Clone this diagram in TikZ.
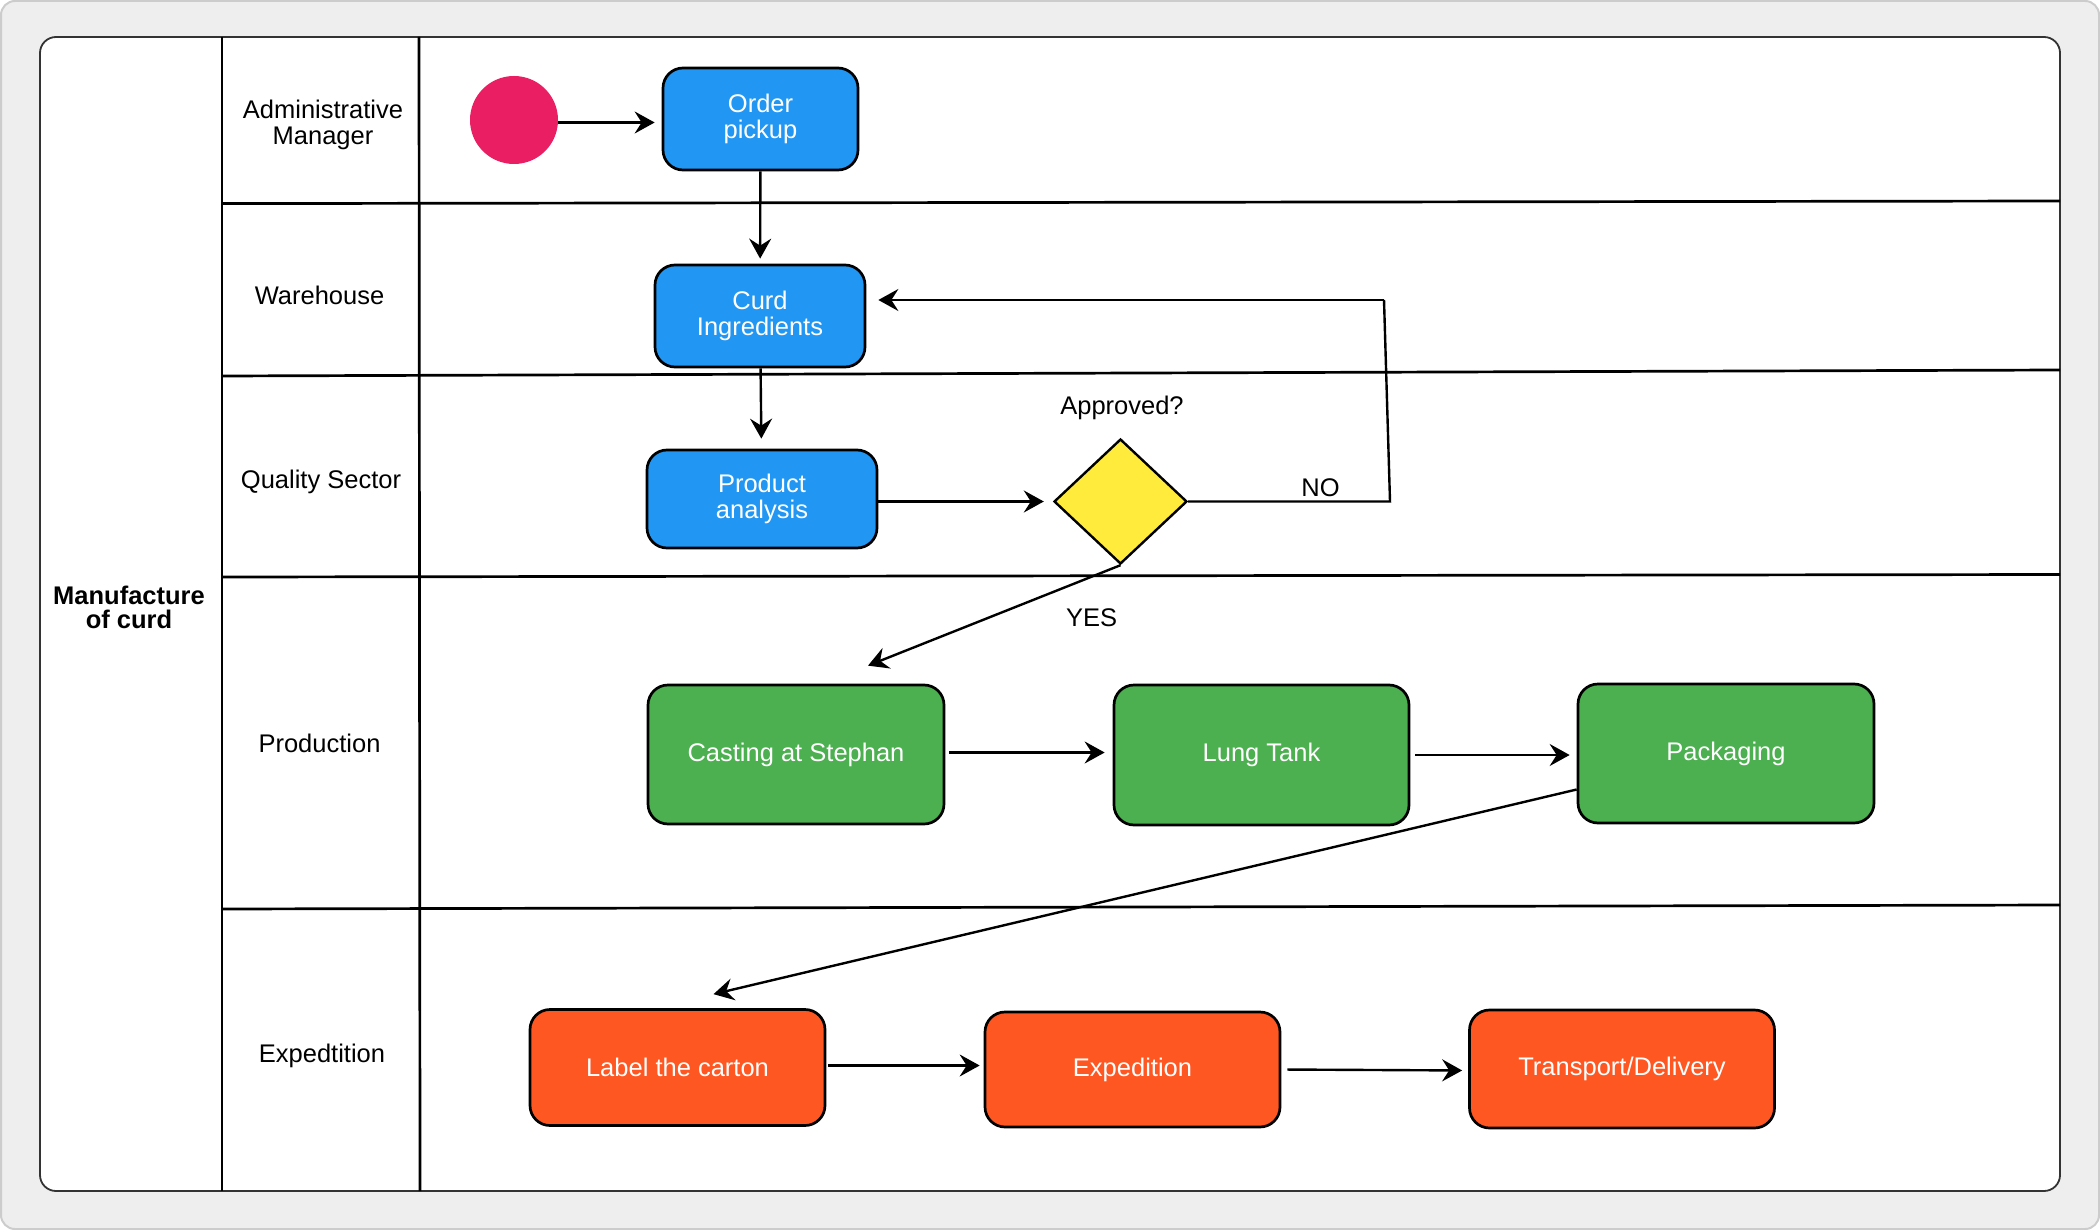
\documentclass[tikz,border=0pt]{standalone}
\usepackage{fontspec}
\setmainfont{Liberation Sans}
\usetikzlibrary{arrows.meta,shapes.geometric,calc}
\definecolor{bgc}{HTML}{EEEEEE}
\definecolor{bgline}{HTML}{CCCCCC}
\definecolor{panelline}{HTML}{333333}
\definecolor{cblue}{HTML}{2196F3}
\definecolor{cgreen}{HTML}{4CAF50}
\definecolor{corange}{HTML}{FF5722}
\definecolor{cyellow}{HTML}{FFEB3B}
\definecolor{cpink}{HTML}{E91E63}
\begin{document}
\begin{tikzpicture}[x=1pt,y=-1pt,
  txt/.style={font=\fontsize{25.5}{25.5}\selectfont, align=center, inner sep=0pt},
  lanelabel/.style={txt, text=black},
  box/.style={txt, draw=black, line width=2.7pt, rounded corners=20pt, text=white},
  lane/.style={line width=2.7pt, draw=black},
  conn/.style={line width=2.4pt, draw=black, -{Stealth[length=20pt,width=22pt,inset=7pt]}}
]
\useasboundingbox (0,0) rectangle (2100,1230);
% background
\draw[fill=bgc, draw=bgline, line width=2pt, rounded corners=14pt] (1,1) rectangle (2099,1229);
\draw[fill=white, draw=panelline, line width=1.8pt, rounded corners=16pt] (40,37) rectangle (2060,1191);
% columns
\draw[lane] (222,37) -- (222,1191);
\draw[lane] (419,37) -- (420,1191);
% lanes
\draw[lane] (222,203.6) -- (2060,201);
\draw[lane] (222,376) -- (2060,370);
\draw[lane] (222,577) -- (2060,574.5);
\draw[lane] (222,909) -- (2060,905);
% labels
\node[lanelabel, font=\bfseries\fontsize{25.5}{24}\selectfont] (title) at (129,607) {Manufacture\\of curd};
\node[lanelabel] (l1) at (323,125) {Administrative\\Manager};
\node[lanelabel] (l2) at (319.5,295) {Warehouse};
\node[lanelabel] (l3) at (321,481.5) {Quality Sector};
\node[lanelabel] (l4) at (319.5,743) {Production};
\node[lanelabel] (l5) at (322,1056) {Expedtition};
% nodes
\node[circle, fill=cpink, minimum size=88pt, inner sep=0pt] (start) at (514,120) {};
\node[box, fill=cblue, minimum width=195pt, minimum height=102pt] (order) at (760.5,119) {Order\\pickup};
\node[box, fill=cblue, minimum width=210pt, minimum height=102pt] (curd) at (760,316) {Curd\\Ingredients};
\node[box, fill=cblue, minimum width=230pt, minimum height=98pt] (prod) at (762,499) {Product\\analysis};
\node[diamond, fill=cyellow, draw=black, line width=2.4pt, minimum width=133pt, minimum height=125pt, inner sep=0pt] (dia) at (1120.5,501.5) {};
\node[lanelabel] (appr) at (1122,408) {Approved?};
\node[lanelabel] (no) at (1320.5,487.5) {NO};
\node[lanelabel] (yes) at (1091.5,617.5) {YES};
\node[box, fill=cgreen, minimum width=296pt, minimum height=139pt] (cast) at (796,754.5) {Casting at Stephan};
\node[box, fill=cgreen, minimum width=295pt, minimum height=140pt] (lung) at (1261.5,755) {Lung Tank};
\node[box, fill=cgreen, minimum width=296pt, minimum height=139pt] (pack) at (1726,753.5) {Packaging};
\node[box, fill=corange, minimum width=295pt, minimum height=116pt] (label) at (677.5,1067.5) {Label the carton};
\node[box, fill=corange, minimum width=295pt, minimum height=115pt] (exp) at (1132.5,1069.5) {Expedition};
\node[box, fill=corange, minimum width=305pt, minimum height=118pt] (trans) at (1622,1069) {Transport/Delivery};
% connectors
\draw[conn, shorten >=7pt] ([yshift=-2.5pt]start.east) -- ([yshift=-2.5pt]start.east -| order.west);
\draw[conn, shorten >=5pt] (order) -- (curd);
\draw[conn, shorten >=10pt] (curd) -- (prod);
\draw[conn, shorten >=9pt] ([yshift=-2.5pt]prod.east) -- ([yshift=-2.5pt]prod.east -| dia.west);
\coordinate (n1) at (1390,501.5);
\coordinate (n2) at (1384,300);
\draw[line width=2.4pt, line join=miter] (dia.east) -- (n1) -- (n2);
\draw[conn] (n2) -- ([xshift=12pt,yshift=16pt]curd.east);
\draw[conn] (dia.south) -- ([xshift=72pt,yshift=18pt]cast.north);
\draw[conn, shorten <=4pt, shorten >=8pt] ([yshift=2pt]cast.east) -- ([yshift=2pt]cast.east -| lung.west);
\draw[conn, shorten <=5pt, shorten >=7pt] (lung.east) -- (lung.east -| pack.west);
\draw[conn] ([yshift=-36pt]pack.west) -- ([xshift=36pt,yshift=14pt]label.north);
\draw[conn, shorten <=2pt, shorten >=4pt] ([yshift=2pt]label.east) -- ([yshift=2pt]label.east -| exp.west);
\draw[conn, shorten <=6pt, shorten >=6pt] (exp.east) -- ([yshift=-1.5pt]trans.west);
\end{tikzpicture}
\end{document}
